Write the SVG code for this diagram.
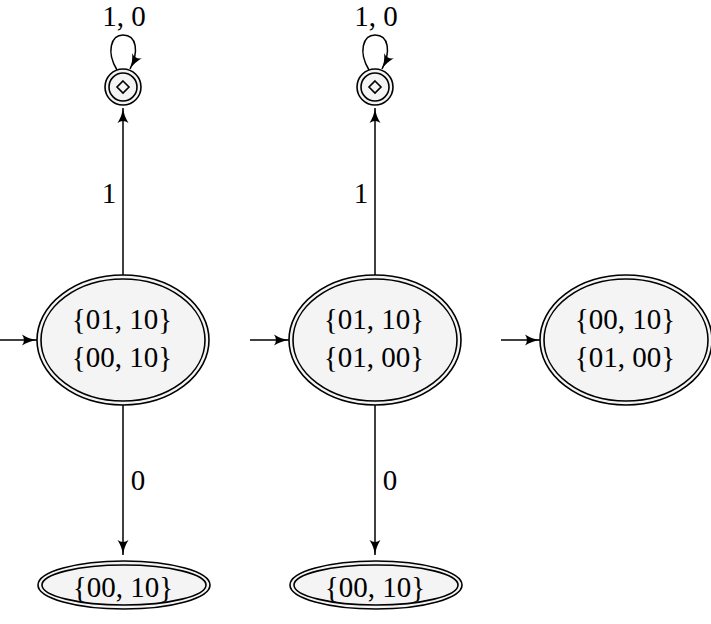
<svg xmlns="http://www.w3.org/2000/svg" width="711" height="624" viewBox="0 0 711 624">
<defs>
<marker id="ah" markerWidth="16" markerHeight="14" viewBox="0 0 16 14" refX="15" refY="7" orient="auto" markerUnits="userSpaceOnUse">
<path d="M0,1.5 Q7,6 15,7 Q7,8 0,12.5 Q4,7 0,1.5 Z" fill="#000"/>
</marker>
<style>
.o{fill:#f4f4f4;stroke:#000;stroke-width:1.6}
.i{fill:none;stroke:#000;stroke-width:1.6}
.e{fill:none;stroke:#000;stroke-width:1.5}
text{font-family:"Liberation Serif","Times New Roman",serif;font-size:29px;text-anchor:middle;fill:#000}
</style>
</defs>
<g id="connectors">
<path class="e" d="M0,340 L37,340" marker-end="url(#ah)"/>
<path class="e" d="M250,340 L289,340" marker-end="url(#ah)"/>
<path class="e" d="M501,340 L540,340" marker-end="url(#ah)"/>
<path class="e" d="M123,275 L123,108" marker-end="url(#ah)"/>
<path class="e" d="M375,275 L375,108" marker-end="url(#ah)"/>
<path class="e" d="M123,405 L123,555" marker-end="url(#ah)"/>
<path class="e" d="M375,405 L375,555" marker-end="url(#ah)"/>
<path class="e" d="M117,70 C106,52 111,35 123,35 C137,35 139,52 130,69" marker-end="url(#ah)"/>
<path class="e" d="M369,70 C358,52 363,35 375,35 C389,35 391,52 382,69" marker-end="url(#ah)"/>
<text x="109" y="203">1</text>
<text x="361" y="203">1</text>
<text x="138" y="490">0</text>
<text x="390" y="490">0</text>
<text x="124" y="26">1, 0</text>
<text x="376" y="26">1, 0</text>
</g>
<g id="top1">
<circle class="o" cx="123" cy="87" r="18"/>
<circle class="i" cx="123" cy="87" r="14"/>
<path class="i" d="M123,81 L129,87 L123,93 L117,87 Z" stroke-width="1.2"/>
</g>
<g id="top2">
<circle class="o" cx="375" cy="87" r="18"/>
<circle class="i" cx="375" cy="87" r="14"/>
<path class="i" d="M375,81 L381,87 L375,93 L369,87 Z" stroke-width="1.2"/>
</g>
<g id="s1">
<ellipse class="o" cx="123" cy="340" rx="86" ry="65"/>
<ellipse class="i" cx="123" cy="340" rx="82" ry="61"/>
<text x="122" y="329">{01, 10}</text>
<text x="122" y="367">{00, 10}</text>
</g>
<g id="s2">
<ellipse class="o" cx="375" cy="340" rx="86" ry="65"/>
<ellipse class="i" cx="375" cy="340" rx="82" ry="61"/>
<text x="374" y="329">{01, 10}</text>
<text x="374" y="367">{01, 00}</text>
</g>
<g id="s3">
<ellipse class="o" cx="626" cy="340" rx="86" ry="65"/>
<ellipse class="i" cx="626" cy="340" rx="82" ry="61"/>
<text x="625" y="329">{00, 10}</text>
<text x="625" y="367">{01, 00}</text>
</g>
<g id="b1">
<ellipse class="o" cx="124" cy="585" rx="86" ry="24"/>
<ellipse class="i" cx="124" cy="585" rx="82" ry="20"/>
<text x="123" y="597">{00, 10}</text>
</g>
<g id="b2">
<ellipse class="o" cx="376" cy="585" rx="86" ry="24"/>
<ellipse class="i" cx="376" cy="585" rx="82" ry="20"/>
<text x="375" y="597">{00, 10}</text>
</g>
</svg>
